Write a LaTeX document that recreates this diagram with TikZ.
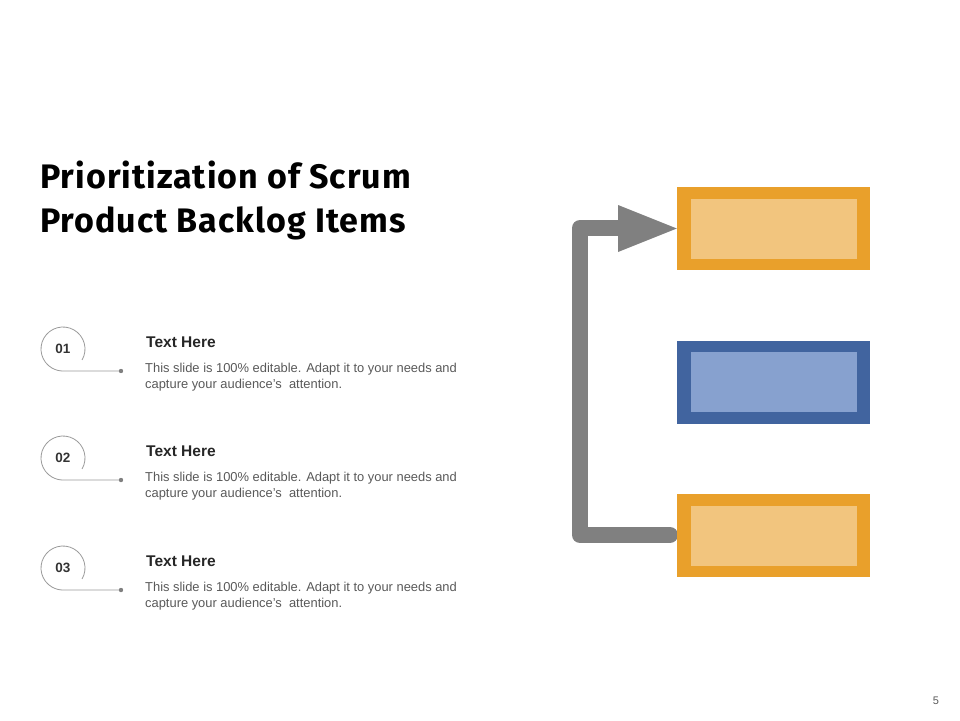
\documentclass[tikz,border=0pt]{standalone}
\usepackage{fontspec}
\setmainfont{Liberation Sans}
\newfontfamily\titlefont[LetterSpace=3]{Fira Sans}
\definecolor{org}{HTML}{E9A02B}
\definecolor{orgin}{HTML}{F2C57E}
\definecolor{blu}{HTML}{41649F}
\definecolor{bluin}{HTML}{87A1CF}
\definecolor{gry}{HTML}{808080}
\definecolor{txt}{HTML}{595959}
\begin{document}
\begin{tikzpicture}[x=1pt,y=-1pt,
  outerbox/.style={minimum width=193pt,minimum height=83pt,inner sep=0pt},
  innerbox/.style={minimum width=166pt,minimum height=60pt,inner sep=0pt},
  head/.style={anchor=west,font=\bfseries\fontsize{15.5}{18}\selectfont,text=black!85,inner sep=0pt},
  body/.style={anchor=north west,align=left,font=\fontsize{12.9}{16}\selectfont,text=txt,inner sep=0pt},
  num/.style={font=\bfseries\fontsize{13.5}{15}\selectfont,text=black!80}]
\useasboundingbox (0,0) rectangle (960,720);
\node[anchor=west,align=left,font=\titlefont\bfseries\fontsize{34}{44}\selectfont,inner sep=0pt] (title) at (40,200) {Prioritization of Scrum\\Product Backlog Items};
% arrow
\coordinate (c1) at (580,228);
\coordinate (c2) at (580,535);
\coordinate (ah) at (618,228);
\coordinate (ae) at (670,535);
\draw[gry,line width=16pt,line join=round,line cap=round] (ah) -- (c1) -- (c2) -- (ae);
% boxes
\node[outerbox,fill=org] (b1) at (773.5,228.5) {};
\node[innerbox,fill=orgin] (i1) at (b1) {};
\node[outerbox,fill=blu] (b2) at (773.5,382) {};
\node[innerbox,fill=bluin] (i2) at (b2) {};
\node[outerbox,fill=org] (b3) at (773.5,535.5) {};
\node[innerbox,fill=orgin] (i3) at (b3) {};
\fill[gry] (618,205) -- (b1.west) -- (618,252) -- cycle;
% items
\foreach \n/\y in {01/349,02/458,03/568}{
  \node[num] (n\n) at (63,\y) {\n};
  \draw[gry!80,line width=0.8pt] ([shift={(30:22)}]63,\y) arc[start angle=30,end angle=-270,radius=22] -- (121,\y+22);
  \fill[gry] (121,\y+22) circle (2.2pt);
  \node[head] (h\n) at (146,\y-7) {Text Here};
  \node[body] (t\n) at (145,\y+14) {This slide is 100\%\ editable. Adapt it to your needs and\\capture your audience's\ \ attention.};
}
\node[font=\fontsize{11}{13}\selectfont,text=txt] (pg) at (936,701) {5};
\end{tikzpicture}
\end{document}
